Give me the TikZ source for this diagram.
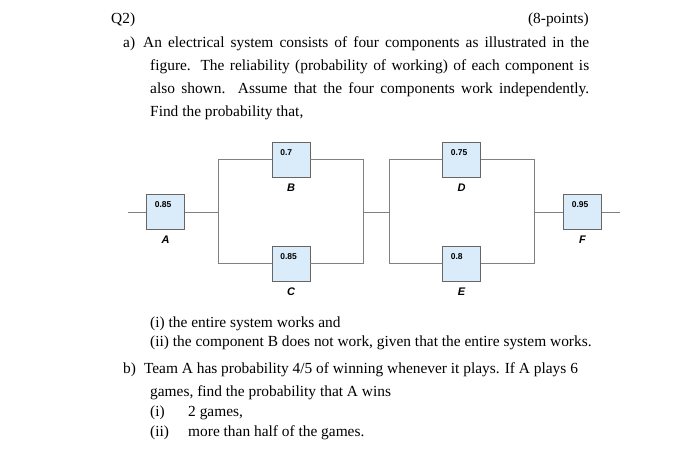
\documentclass[tikz,border=0pt]{standalone}
\usepackage{fontspec}
\setmainfont{Liberation Serif}
\newfontfamily\lsans{Liberation Sans}
\begin{document}
\begin{tikzpicture}[x=1pt,y=-1pt,
  comp/.style={draw=gray!80!black,fill={rgb,255:red,218;green,235;blue,250},minimum width=38pt,minimum height=35pt,inner sep=0pt},
  val/.style={font=\lsans\bfseries\fontsize{8.5}{9}\selectfont},
  lab/.style={font=\lsans\itshape\bfseries\fontsize{11}{12}\selectfont},
  wire/.style={draw=gray,line width=0.8pt},
  txt/.style={anchor=base west,inner sep=0pt,font=\fontsize{15.4}{17}\selectfont}]
\useasboundingbox (0,0) rectangle (700,472);
\node[txt] (q) at (111,23) {Q2)};
\node[txt,anchor=base east] (pts) at (589,23) {(8-points)};
\node[txt] (a1) at (123,47) {\makebox[466pt][s]{a)\hspace{8pt}An electrical system consists of four components as illustrated in the}};
\node[txt] (a2) at (150,70) {\makebox[439pt][s]{figure. The reliability (probability of working) of each component is}};
\node[txt] (a3) at (150,93) {\makebox[439pt][s]{also shown. Assume that the four components work independently.}};
\node[txt] (a4) at (150,116) {Find the probability that,};
% components
\node[comp] (A) at (165.5,212) {};
\node[comp] (B) at (291,159.5) {};
\node[comp] (C) at (291,263.5) {};
\node[comp] (D) at (461.5,159.5) {};
\node[comp] (E) at (461.5,263.5) {};
\node[comp] (F) at (582.5,212) {};
\foreach \n/\v in {A/0.85,B/0.7,C/0.85,D/0.75,E/0.8,F/0.95}
  \node[val,anchor=north west] at ([xshift=5pt,yshift=-4pt]\n.north west) {\v};
\foreach \n in {A,B,C,D,E,F}
  \node[lab,anchor=north] (l\n) at ([yshift=-3pt]\n.south) {\n};
\coordinate (s) at (128,212);
\coordinate (t) at (620,212);
\coordinate (p1) at (218,212);
\coordinate (p1t) at (218,159.5);
\coordinate (p1b) at (218,263.5);
\coordinate (q1) at (363,212);
\coordinate (q1t) at (363,159.5);
\coordinate (q1b) at (363,263.5);
\coordinate (p2) at (389,212);
\coordinate (p2t) at (389,159.5);
\coordinate (p2b) at (389,263.5);
\coordinate (q2) at (534,212);
\coordinate (q2t) at (534,159.5);
\coordinate (q2b) at (534,263.5);
\draw[wire] (s) -- (A.west);
\draw[wire] (A.east) -- (p1);
\draw[wire] (p1t) -- (p1b);
\draw[wire] (p1t) -- (B.west);
\draw[wire] (p1b) -- (C.west);
\draw[wire] (B.east) -- (q1t) -- (q1b) -- (C.east);
\draw[wire] (q1) -- (p2);
\draw[wire] (p2t) -- (p2b);
\draw[wire] (p2t) -- (D.west);
\draw[wire] (p2b) -- (E.west);
\draw[wire] (D.east) -- (q2t) -- (q2b) -- (E.east);
\draw[wire] (q2) -- (F.west);
\draw[wire] (F.east) -- (t);
% bottom text
\node[txt] (i1) at (150,327) {(i) the entire system works and};
\node[txt] (i2) at (150,346) {(ii) the component B does not work, given that the entire system works.};
\node[txt] (b1) at (123,373) {b)\hspace{8pt}Team A has probability 4/5 of winning whenever it plays. If A plays 6};
\node[txt] (b2) at (150,396) {games, find the probability that A wins};
\node[txt] (b3) at (150,416) {(i)};
\node[txt] (b3b) at (188,416) {2 games,};
\node[txt] (b4) at (150,436) {(ii)};
\node[txt] (b4b) at (188,436) {more than half of the games.};
\end{tikzpicture}
\end{document}
